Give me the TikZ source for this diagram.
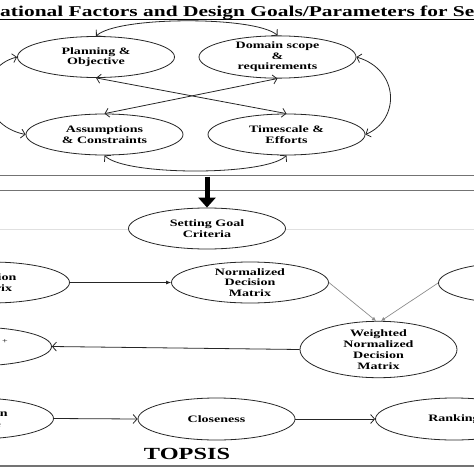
\documentclass[tikz,border=0pt]{standalone}
\usepackage{fontspec}
\setmainfont{Liberation Serif}[FakeStretch=1.43]
\usetikzlibrary{arrows.meta,shapes.geometric}
\begin{document}
\begin{tikzpicture}[x=1pt,y=-1pt,
  >={Straight Barb[length=4pt,width=9pt]},
  ell/.style={draw=black!85, line width=0.8pt, ellipse, inner sep=0pt,
    minimum width=157pt, minimum height=41pt, align=center, fill=white,
    font=\fontsize{9.8}{10.5}\selectfont\bfseries},
  link/.style={draw=black!85, line width=0.8pt},
  glink/.style={draw=black!45, line width=0.7pt},
  rulex/.style={draw=black!55, line width=1.3pt}]
\useasboundingbox (0,0) rectangle (474,474);
% title
\node[anchor=base west, inner sep=0pt, font=\fontsize{15}{15}\selectfont\bfseries] (title) at (0,16.7) {ational Factors and Design Goals/Parameters for Se};
\draw[line width=0.9pt] (0,19.3) -- (474,19.3);
% top section ellipses
\node[ell] (P) at (96,57) {Planning \&\\Objective};
\node[ell, minimum width=157pt, minimum height=42pt] (D) at (277.5,57) {Domain scope\\\&\\requirements};
\node[ell] (A) at (104.5,134.5) {Assumptions\\\& Constraints};
\node[ell] (T) at (286.5,134.5) {Timescale \&\\Efforts};
\draw[link,<->] (P.north) .. controls (118,16) and (256,16) .. (D.north);
\draw[link,<->] (A.south) .. controls (125,176) and (266,176) .. (T.south);
\draw[link,<->] (P.west) .. controls (-25,68) and (-22,125) .. (A.west);
\draw[link,<->] (D.east) .. controls (400,70) and (400,120) .. (T.east);
\draw[link,<->] (P.south) -- (T.north);
\draw[link,<->] (D.south) -- (A.north);
% separators
\draw[rulex] (0,175.7) -- (474,175.7);
\draw[rulex] (0,190.7) -- (474,190.7);
\draw[black!12, line width=0.8pt] (0,229) -- (474,229);
% lower section
\node[ell] (G) at (207,228.5) {Setting Goal\\Criteria};
\coordinate (s) at (207,176.5);
\draw[line width=5pt, -{Triangle[length=10pt,width=17pt]}] (s) -- (G.north);
\node[ell] (DM) at (-9,282.5) {Decision\\Matrix};
\node[ell] (N) at (250,282.5) {Normalized\\Decision\\Matrix};
\node[ell] (R) at (517,283) {};
\node[ell, minimum width=157pt, minimum height=53pt, font=\fontsize{9.8}{11}\selectfont\bfseries] (W) at (378.5,349.5) {Weighted\\Normalized\\Decision\\Matrix};
\node[ell, minimum height=39pt] (I) at (-27,346.5) {};
\node[font=\fontsize{7}{7}\selectfont, inner sep=0pt] (plus) at (5,342) {+};
\node[ell] (S) at (-25,418.5) {Separation\\Measure};
\node[ell, minimum height=42pt] (C) at (216.5,419) {Closeness};
\node[ell, minimum height=42pt] (K) at (454,419) {Ranking};
\draw[link, -{Latex[length=5pt,width=4pt]}] (DM.east) -- (N.west);
\draw[glink, -{Latex[length=4pt,width=4pt]}, black!45] (N.east) -- (W.95);
\draw[glink, -{Latex[length=4pt,width=4pt]}] (R.west) -- (W.85);
\draw[link, ->] (W.west) -- (I.east);
\draw[link, ->] (S.east) -- (C.west);
\draw[link, ->] (C.east) -- (K.west);
\node[font=\fontsize{17}{17}\selectfont\bfseries, inner sep=0pt] (topsis) at (187,454) {TOPSIS};
\draw[rulex] (0,466) -- (474,466);
\end{tikzpicture}
\end{document}
